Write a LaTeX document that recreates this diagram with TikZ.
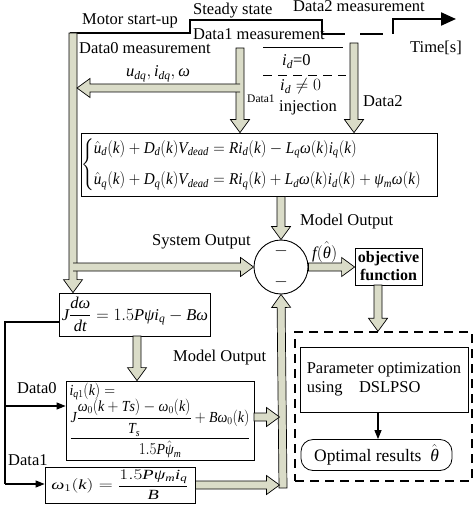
\documentclass[tikz,border=0pt]{standalone}
\usepackage{amsmath}
\usepackage{graphicx}
\usepackage{fontspec}
\setmainfont[NFSSFamily=libser]{Liberation Serif}
\DeclareSymbolFont{tuit}{TU}{libser}{m}{it}
\DeclareSymbolFont{turm}{TU}{libser}{m}{n}
\newcount\mycnt
\mycnt=`a
\loop \Umathcode\mycnt="7 \symtuit \mycnt \ifnum\mycnt<`z \advance\mycnt by 1 \repeat
\mycnt=`A
\loop \Umathcode\mycnt="7 \symtuit \mycnt \ifnum\mycnt<`Z \advance\mycnt by 1 \repeat
\mycnt=`0
\loop \Umathcode\mycnt="0 \symturm \mycnt \ifnum\mycnt<`9 \advance\mycnt by 1 \repeat
\Umathchardef\omega="0 \symtuit "03C9
\Umathchardef\psi="0 \symtuit "03C8
\Umathchardef\theta="0 \symtuit "03B8
\usetikzlibrary{calc,arrows.meta}
\definecolor{fatfill}{RGB}{218,220,200}
\newcommand\fatarrow[3][--cycle]{%
  \filldraw[fat] let \p1=#2, \p2=#3, \n1={atan2(\y2-\y1,\x2-\x1)}, \n2={veclen(\x2-\x1,\y2-\y1)-13} in
  ($(\p1)+(\n1-90:4pt)$) -- ($(\p1)+(\n1:{\n2*1pt})+(\n1-90:4pt)$) -- ($(\p1)+(\n1:{\n2*1pt})+(\n1-90:9.5pt)$) -- (\p2) -- ($(\p1)+(\n1:{\n2*1pt})+(\n1+90:9.5pt)$) -- ($(\p1)+(\n1:{\n2*1pt})+(\n1+90:4pt)$) -- ($(\p1)+(\n1+90:4pt)$) #1;}
\tikzset{
  box/.style={draw, line width=0.8pt, inner sep=2pt},
  lbl/.style={inner sep=0pt, anchor=base west},
  fat/.style={fill=fatfill, draw=black, line width=0.7pt, line join=miter},
  thinarr/.style={line width=1.1pt, -{Triangle[length=9pt,width=7pt]}},
  tl/.style={line width=2.2pt},
}
\begin{document}
\begin{tikzpicture}[x=1pt,y=-1pt, every node/.style={font=\fontsize{16.5}{19}\selectfont}]
\useasboundingbox (0,0) rectangle (474,505);
% timeline
\coordinate (t0) at (70,33);
\coordinate (t1) at (190,33);
\coordinate (t2) at (190,20);
\coordinate (t3) at (322,20);
\coordinate (t4) at (322,34);
\coordinate (t5) at (393,34);
\coordinate (t6) at (393,19);
\coordinate (t7) at (456,19);
\draw[tl] (t0) -- (t1) -- (t2) -- (t3) -- (t4);
\draw[tl, dash pattern=on 23pt off 15pt] (t4) -- (t5);
\draw[tl, -{Triangle[length=15pt,width=13pt]}] (t5) -- (t6) -- (t7);
\node[lbl] (motor) at (82,25) {Motor start-up};
\node[lbl] (steady) at (193,15) {Steady state};
\node[lbl] (d2m) at (293,12) {Data2 measurement};
\node[lbl] (d1m) at (193,40) {Data1 measurement};
\node[lbl] (d0m) at (79,54) {Data0 measurement};
\node[lbl] (time) at (410,53) {Time[s]};
\node[lbl] (udq) at (126,77) {$u_{dq}, i_{dq}, \omega$};
\coordinate (l1a) at (263,47); \coordinate (l1b) at (343,47);
\draw[line width=0.9pt] (l1a) -- (l1b);
\node[lbl] (id0) at (282,66) {$i_d$=0};
\coordinate (l2a) at (263,75); \coordinate (l2b) at (346,75);
\draw[line width=0.9pt, dash pattern=on 9pt off 6pt] (l2a) -- (l2b);
\node[lbl] (idn) at (280,91) {$i_d \neq 0$};
\node[lbl, font=\fontsize{11.5}{13}\selectfont] (d1s) at (247,103) {Data1};
\node[lbl] (inj) at (279,112) {injection};
\node[lbl] (d2) at (363,107) {Data2};
% boxes
\node[box, minimum width=356pt, minimum height=63pt, inner sep=0pt, font=\fontsize{16.5}{19}\selectfont] (eq) at (259,164.5) {\scalebox{0.92}[1]{$\begin{cases} \hat u_d(k)+D_d(k)V_{dead}=Ri_d(k)-L_q\omega(k)i_q(k)\\[9pt] \hat u_q(k)+D_q(k)V_{dead}=Ri_q(k)+L_d\omega(k)i_d(k)+\psi_m\omega(k)\end{cases}$}};
\node[draw, circle, minimum size=54pt, line width=0.9pt, inner sep=0pt] (circ) at (281,267) {};
\node[inner sep=0pt] (m1) at (281,251) {$-$};
\node[inner sep=0pt] (m2) at (281,282) {$-$};
\node[box, minimum width=67pt, minimum height=37pt, inner sep=1pt, align=center, font=\bfseries\fontsize{16}{18}\selectfont] (obj) at (388.5,266.5) {objective\\function};
\node[draw, line width=1.5pt, dash pattern=on 9pt off 6pt, minimum width=177pt, minimum height=149pt] (dbox) at (383.5,406.5) {};
\node[box, minimum width=168pt, minimum height=65pt, align=left] (param) at (384,379.5) {Parameter optimization\\using\quad DSLPSO};
\node[box, rounded corners=12pt, minimum width=151pt, minimum height=31pt, inner sep=0pt, font=\fontsize{17.5}{20}\selectfont] (opt) at (376.5,455) {Optimal results\ \ $\hat\theta$\hspace{22pt}};
\node[box, minimum width=147pt, minimum height=43pt] (J) at (135,314.5) {$J\dfrac{d\omega}{dt}=1.5P\psi i_q-B\omega$};
\node[box, minimum width=188pt, minimum height=79pt, inner sep=0pt, font=\fontsize{16}{18}\selectfont] (iq1) at (160,420.5) {\scalebox{0.87}[0.96]{$\begin{array}{@{}l@{}} i_{q1}(k)= \\[-2pt] \dfrac{J\dfrac{\omega_0(k+Ts)-\omega_0(k)}{T_s}+B\omega_0(k)}{1.5P\hat\psi_m}\end{array}$}};
\node[box, minimum width=150pt, minimum height=36pt, inner sep=0pt] (w1) at (120,485) {\scalebox{1.12}[0.85]{$\omega_1(k)=\dfrac{1.5P\psi_m i_q}{B}$}};
% labels
\node[lbl] (mo1) at (300,225) {Model Output};
\node[lbl] (so) at (152,245) {System Output};
\node[lbl] (fth) at (312,258) {$f(\hat\theta)$};
\node[lbl] (mo2) at (173,361) {Model Output};
\node[lbl] (d0l) at (17,393) {Data0};
\node[lbl] (d1l) at (8,465) {Data1};
% fat arrows
\coordinate (barTop) at (73,33);
\fatarrow{(barTop)}{(barTop |- J.north)}
\coordinate (d1Top) at (240,48);
\fatarrow{(d1Top)}{(d1Top |- eq.north)}
\coordinate (d2Top) at (354,43);
\fatarrow{(d2Top)}{(d2Top |- eq.north)}
\coordinate (d0s) at (240,88);
\coordinate (d0e) at (77,88);
\fatarrow[]{(d0s)}{(d0e)}
\fatarrow{(circ.north |- eq.south)}{(circ.north)}
\coordinate (sos) at (73,267);
\fatarrow[]{(sos)}{(circ.west)}
\fatarrow{(circ.east)}{(obj.west |- circ.east)}
\coordinate (objs) at (378,285);
\fatarrow{(objs)}{(objs |- dbox.north)}
\coordinate (js) at (137,336);
\fatarrow{(js)}{(js |- iq1.north)}
\coordinate (busB) at (283,488);
\fatarrow{(busB)}{(circ.south)}
\coordinate (iqe) at (254,417);
\coordinate (bus1) at (279.5,417);
\fatarrow{(iqe)}{(bus1)}
\coordinate (bus2) at (279.5,485);
\fatarrow{(w1.east)}{(bus2)}
% thin arrows
\coordinate (lc) at (5,322);
\coordinate (lb) at (5,484);
\coordinate (lm) at (5,406);
\draw[line width=1.1pt] (J.west |- lc) -- (lc) -- (lb);
\draw[thinarr] (lm) -- (iq1.west |- lm);
\draw[thinarr] (lb) -- (w1.west |- lb);
\draw[thinarr] (param.south -| objs) -- (opt.north -| objs);
\end{tikzpicture}
\end{document}
